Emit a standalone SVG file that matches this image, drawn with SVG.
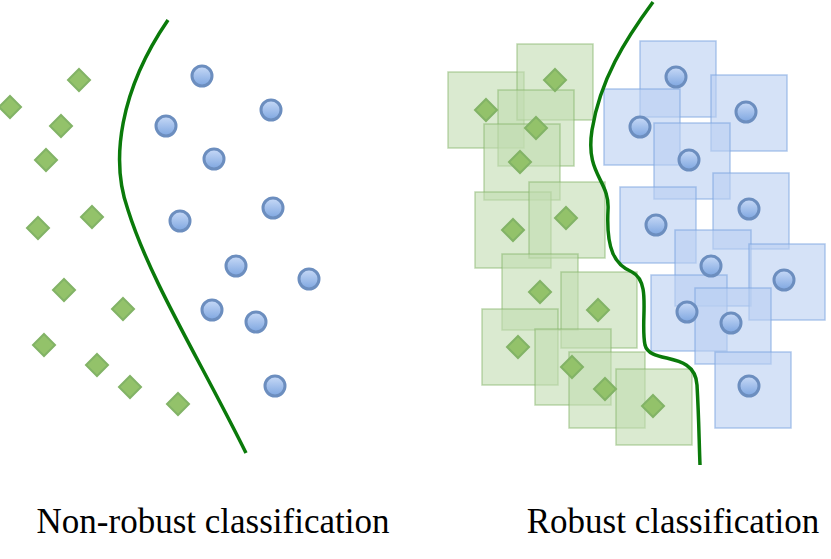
<svg xmlns="http://www.w3.org/2000/svg" width="831" height="559" viewBox="0 0 831 559">
<style>
.d{fill:#93c26a;stroke:#82b366;stroke-width:2}
.c{fill:url(#bg);stroke:#6c8ebf;stroke-width:3}
.gs{fill:#c2dcb0;fill-opacity:0.6;stroke:#82b366;stroke-opacity:0.5;stroke-width:1.5}
.bs{fill:#b9cff2;fill-opacity:0.6;stroke:#7ea6e0;stroke-opacity:0.6;stroke-width:1.5}
.cv{fill:none;stroke:#0a7a0a;stroke-width:3.5}
text{font-family:"Liberation Serif",serif;font-size:35px;fill:#000}
</style>
<defs>
<linearGradient id="bg" x1="0" y1="0" x2="0" y2="1"><stop offset="0" stop-color="#c8daf7"/><stop offset="1" stop-color="#7ea6e0"/></linearGradient>
<path id="dm" d="M0,-11 L11,0 L0,11 L-11,0Z"/>
<rect id="sq" x="-38" y="-38" width="76" height="76"/>
</defs>
<g id="left-green">
<use href="#dm" class="d" x="10" y="107"/><use href="#dm" class="d" x="79" y="80"/><use href="#dm" class="d" x="61" y="126"/><use href="#dm" class="d" x="46" y="160"/><use href="#dm" class="d" x="38" y="228"/><use href="#dm" class="d" x="92" y="217"/><use href="#dm" class="d" x="64" y="290"/><use href="#dm" class="d" x="123" y="309"/><use href="#dm" class="d" x="44" y="345"/><use href="#dm" class="d" x="97" y="365"/><use href="#dm" class="d" x="130" y="387"/><use href="#dm" class="d" x="178" y="404"/>
</g>
<g id="left-blue">
<circle class="c" cx="202" cy="76" r="10"/><circle class="c" cx="271" cy="110" r="10"/><circle class="c" cx="166" cy="126" r="10"/><circle class="c" cx="214" cy="159" r="10"/><circle class="c" cx="180" cy="221" r="10"/><circle class="c" cx="273" cy="208" r="10"/><circle class="c" cx="236" cy="266" r="10"/><circle class="c" cx="309" cy="279" r="10"/><circle class="c" cx="212" cy="310" r="10"/><circle class="c" cx="256" cy="322" r="10"/><circle class="c" cx="275" cy="386" r="10"/>
</g>
<g id="right-green-squares">
<use href="#sq" class="gs" x="486" y="110"/><use href="#sq" class="gs" x="555" y="82"/><use href="#sq" class="gs" x="536" y="128"/><use href="#sq" class="gs" x="522" y="162"/><use href="#sq" class="gs" x="513" y="230"/><use href="#sq" class="gs" x="567" y="220"/><use href="#sq" class="gs" x="540" y="292"/><use href="#sq" class="gs" x="599" y="310"/><use href="#sq" class="gs" x="520" y="347"/><use href="#sq" class="gs" x="573" y="367"/><use href="#sq" class="gs" x="607" y="390"/><use href="#sq" class="gs" x="654" y="407"/>
</g>
<g id="right-blue-squares">
<use href="#sq" class="bs" x="678" y="79"/><use href="#sq" class="bs" x="749" y="113"/><use href="#sq" class="bs" x="642" y="127"/><use href="#sq" class="bs" x="692" y="161"/><use href="#sq" class="bs" x="658" y="225"/><use href="#sq" class="bs" x="751" y="211"/><use href="#sq" class="bs" x="713" y="268"/><use href="#sq" class="bs" x="787" y="282"/><use href="#sq" class="bs" x="689" y="313"/><use href="#sq" class="bs" x="733" y="326"/><use href="#sq" class="bs" x="753" y="390"/>
</g>
<g id="right-green">
<use href="#dm" class="d" x="486" y="110"/><use href="#dm" class="d" x="555" y="80"/><use href="#dm" class="d" x="536" y="128"/><use href="#dm" class="d" x="520" y="162"/><use href="#dm" class="d" x="513" y="230"/><use href="#dm" class="d" x="566" y="218"/><use href="#dm" class="d" x="540" y="292"/><use href="#dm" class="d" x="598" y="310"/><use href="#dm" class="d" x="518" y="347"/><use href="#dm" class="d" x="572" y="367"/><use href="#dm" class="d" x="605" y="389"/><use href="#dm" class="d" x="653" y="406"/>
</g>
<g id="right-blue">
<circle class="c" cx="676" cy="77" r="10"/><circle class="c" cx="746" cy="112" r="10"/><circle class="c" cx="640" cy="127" r="10"/><circle class="c" cx="689" cy="160" r="10"/><circle class="c" cx="656" cy="225" r="10"/><circle class="c" cx="749" cy="209" r="10"/><circle class="c" cx="711" cy="266" r="10"/><circle class="c" cx="784" cy="280" r="10"/><circle class="c" cx="687" cy="312" r="10"/><circle class="c" cx="731" cy="323" r="10"/><circle class="c" cx="749" cy="386" r="10"/>
</g>
<g id="connectors">
<path class="cv" d="M168,20 C120,90 110,160 128,210 C150,280 200,360 246,453"/>
<path class="cv" d="M653,2 C625,40 600,80 592,130 C585,175 610,180 608,210 C606,250 615,265 632,272 C652,282 640,320 645,345 C650,365 695,350 697,385 C699,420 699,440 700,465"/>
</g>
<text x="213" y="533" text-anchor="middle">Non-robust classification</text>
<text x="673" y="533" text-anchor="middle">Robust classification</text>
</svg>
